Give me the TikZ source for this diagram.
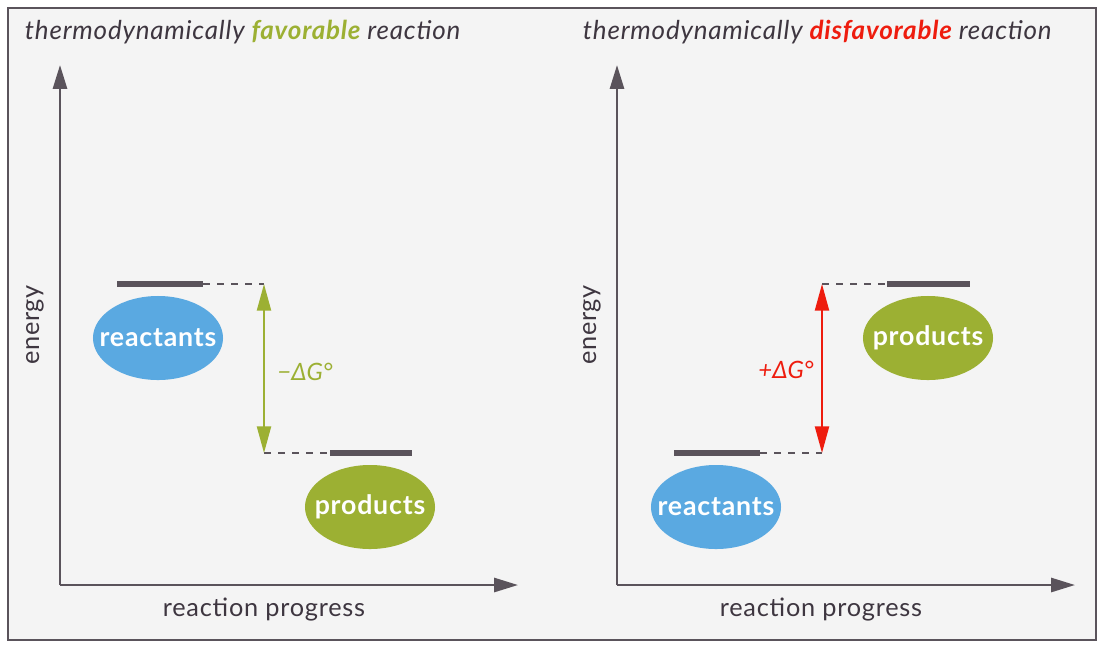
\documentclass[tikz,border=0pt]{standalone}
\usepackage{fontspec}
\setmainfont{Lato}
\usetikzlibrary{arrows.meta,shapes.geometric,positioning}
\definecolor{bgpanel}{HTML}{F4F4F4}
\definecolor{inkgray}{HTML}{5A535B}
\definecolor{txtgray}{HTML}{3E3640}
\definecolor{favgreen}{HTML}{9CB033}
\definecolor{molblue}{HTML}{5AA9E1}
\definecolor{disred}{HTML}{EE1C0E}
\newcommand{\moltext}[1]{\makebox[0pt]{#1}}
\begin{document}
\begin{tikzpicture}[x=0.025cm, y=-0.025cm, font=\fontsize{18}{21}\selectfont\addfontfeature{LetterSpace=3},
          axis/.style={draw=inkgray, line width=1.8pt, -{Triangle[length=17pt,width=10pt]}},
          level/.style={draw=inkgray, line width=3.6pt},
          guide/.style={draw=inkgray, line width=1.4pt, dash pattern=on 5pt off 5pt},
          dg/.style={line width=1.5pt, {Triangle[length=19pt,width=10pt]}-{Triangle[length=19pt,width=10pt]}},
          mol/.style={ellipse, minimum width=3.25cm, minimum height=2.1cm, inner sep=0pt, text=white,
            font=\fontsize{19}{22}\selectfont\bfseries\addfontfeature{LetterSpace=3}},
          ttl/.style={text=txtgray, anchor=west, font=\fontsize{18.5}{22}\selectfont\itshape\addfontfeature{LetterSpace=3}},
          lbl/.style={text=txtgray},
          dglbl/.style={font=\fontsize{17}{20}\selectfont\itshape}]
        \useasboundingbox (0,0) rectangle (1104,647);
        \draw[inkgray, line width=1.6pt, fill=bgpanel] (8,8) rectangle (1096,640);
        % axes of both panels; origin at x = \ox, y = 585
        \foreach \ox/\n in {60/1, 617/2} {
          \coordinate (o\n) at (\ox,585);
          \coordinate (ytip\n) at (\ox,65);
          \coordinate (xtip\n) at (\ox+458,585);
          \draw[axis] (o\n) -- (ytip\n);
          \draw[axis] (o\n) -- (xtip\n);
          \node[lbl, rotate=90] (energy\n) at (\ox-25,325) {energy};
          \node[lbl] (prog\n) at (\ox+204,610) {reaction progress};
        }
        \node[ttl] (title1) at (20,32) {thermodynamically {\bfseries\color{favgreen}favorable} reaction};
        \node[ttl] (title2) at (578,32) {thermodynamically {\bfseries\color{disred}disfavorable} reaction};
        % left panel: products below reactants
        \coordinate (rl1) at (117,284);
        \coordinate (rr1) at (203,284);
        \coordinate (dgt1) at (264,284);
        \coordinate (dgb1) at (264,453);
        \coordinate (pl1) at (330,453);
        \coordinate (pr1) at (412,453);
        \draw[level] (rl1) -- (rr1);
        \draw[guide] (rr1) -- (dgt1);
        \draw[guide] (dgb1) -- (pl1);
        \draw[level] (pl1) -- (pr1);
        \draw[dg, favgreen] (dgb1) -- (dgt1);
        \node[dglbl, text=favgreen] (dG1) at (305,372) {−ΔG°};
        \node[mol, fill=molblue] (react1) at (158,338) {\moltext{reactants}};
        \node[mol, fill=favgreen] (prod1) at (370,507) {\moltext{products}};
        % right panel: products above reactants
        \coordinate (rl2) at (674,453);
        \coordinate (rr2) at (760,453);
        \coordinate (dgb2) at (822,453);
        \coordinate (dgt2) at (822,284);
        \coordinate (pl2) at (887,284);
        \coordinate (pr2) at (970,284);
        \draw[level] (rl2) -- (rr2);
        \draw[guide] (rr2) -- (dgb2);
        \draw[guide] (dgt2) -- (pl2);
        \draw[level] (pl2) -- (pr2);
        \draw[dg, disred] (dgb2) -- (dgt2);
        \node[dglbl, text=disred] (dG2) at (786,370) {+ΔG°};
        \node[mol, fill=favgreen] (prod2) at (928,338) {\moltext{products}};
        \node[mol, fill=molblue] (react2) at (716,507) {\moltext{reactants}};
      \end{tikzpicture}
\end{document}
